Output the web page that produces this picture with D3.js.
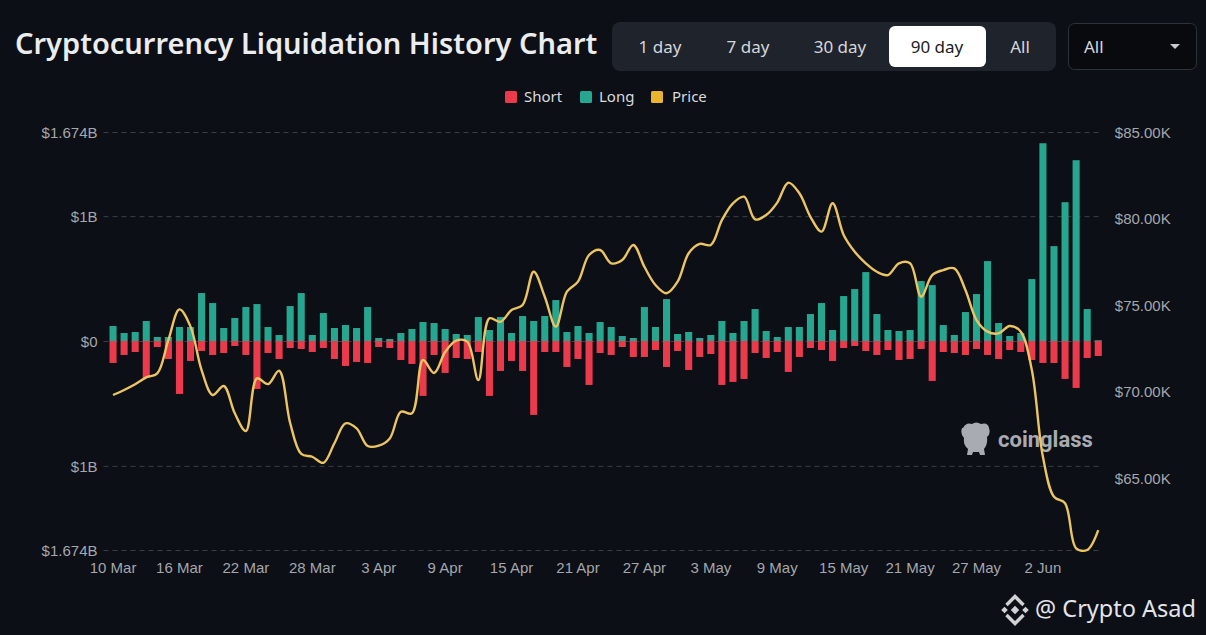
<!DOCTYPE html>
<html>
<head>
<meta charset="utf-8">
<script src="https://cdn.jsdelivr.net/npm/d3@7/dist/d3.min.js"></script>
<style>
  html, body { margin: 0; padding: 0; background: #0c0f15; }
  svg { display: block; font-family: "Noto Sans", Roboto, sans-serif; }
  .tick text { fill: #a4a7ad; font-size: 15px; }
  .grid line { stroke: #3a3f48; stroke-dasharray: 5 4; }
</style>
</head>
<body>
<svg id="chart" width="1206" height="635"></svg>
<script>
// ---- data (liquidations in $M, price in $K) ----
const startDay = new Date(2024, 2, 10);
const endDay = new Date(2024, 5, 8);

const longLiq = [
  120, 64, 72, 160, 32, 32, 112, 112, 384, 304,
  104, 184, 272, 296, 112, 48, 280, 384, 48, 224,
  104, 128, 104, 272, 24, 16, 64, 96, 152, 144,
  96, 56, 48, 192, 88, 192, 64, 200, 160, 200,
  328, 72, 120, 64, 152, 112, 40, 24, 272, 112,
  336, 56, 72, 24, 48, 160, 64, 160, 256, 80,
  32, 112, 112, 216, 304, 88, 360, 416, 552, 216,
  88, 80, 88, 480, 448, 128, 48, 232, 376, 640,
  144, 40, 64, 496, 1584, 760, 1112, 1448, 256, 6
];
const shortLiq = [
  176, 112, 88, 296, 48, 144, 424, 160, 80, 112,
  96, 40, 112, 384, 96, 144, 56, 64, 88, 56,
  144, 200, 168, 176, 48, 56, 152, 184, 440, 112,
  256, 136, 144, 88, 440, 240, 160, 240, 592, 88,
  88, 208, 144, 352, 96, 112, 48, 128, 128, 72,
  208, 80, 232, 128, 104, 352, 328, 304, 96, 136,
  88, 248, 128, 56, 72, 160, 56, 40, 80, 112,
  72, 152, 144, 64, 320, 88, 96, 112, 64, 112,
  144, 72, 88, 152, 176, 176, 304, 376, 136, 120
];
const price = [
  69.80, 70.09, 70.42, 70.82, 71.05, 72.98, 74.75, 73.75, 71.24, 69.80,
  70.32, 68.74, 67.72, 70.76, 70.43, 71.20, 68.18, 66.39, 66.23, 65.88,
  67.01, 68.16, 67.87, 66.85, 66.87, 67.29, 68.83, 68.74, 71.82, 71.07,
  72.28, 72.94, 72.88, 70.66, 74.23, 74.03, 74.71, 75.00, 76.92, 75.48,
  73.75, 75.77, 76.35, 77.89, 78.18, 77.41, 77.60, 78.47, 77.21, 76.16,
  75.68, 76.35, 77.99, 78.53, 78.47, 79.91, 80.88, 81.26, 79.95, 80.20,
  80.92, 82.07, 81.46, 80.10, 79.24, 80.88, 79.05, 78.08, 77.41, 76.92,
  76.73, 77.41, 77.41, 75.48, 76.73, 77.02, 77.12, 75.87, 74.13, 73.46,
  73.36, 73.79, 73.46, 71.24, 66.23, 63.92, 63.54, 60.94, 60.84, 61.99
];

const xTickLabels = ["10 Mar", "16 Mar", "22 Mar", "28 Mar", "3 Apr", "9 Apr", "15 Apr",
  "21 Apr", "27 Apr", "3 May", "9 May", "15 May", "21 May", "27 May", "2 Jun"];
const liqTicks = [-1674, -1000, 0, 1000, 1674];
const priceTicks = [65, 70, 75, 80, 85];
const rangeButtons = ["1 day", "7 day", "30 day", "90 day", "All"];
const activeRange = "90 day";
const legendItems = [
  { name: "Short", color: "#ea3a4c" },
  { name: "Long", color: "#26a58f" },
  { name: "Price", color: "#e9b530" }
];

const fmtDay = d3.timeFormat("%-d %b");
const days = d3.timeDay.range(startDay, endDay).map(fmtDay);

// ---- layout ----
const svg = d3.select("#chart");
const W = 1206, H = 635;
const plot = { left: 107.5, right: 1103.8, top: 132, bottom: 550 };
const RED = "#ea3a4c", GREEN = "#26a58f", LINE = "#ecc462";

svg.append("rect").attr("width", W).attr("height", H).attr("fill", "#0c0f15");

const x = d3.scaleBand().domain(days).range([plot.left, plot.right]).paddingInner(0.36).paddingOuter(0.18);
const yL = d3.scaleLinear().domain([-1674, 1674]).range([plot.bottom, plot.top]);
const yR = d3.scaleLinear().domain([60.84, 85]).range([plot.bottom, plot.top]);

// grid
svg.append("g")
    .attr("class", "grid")
    .attr("transform", `translate(${plot.left - 4},0)`)
    .call(d3.axisLeft(yL).tickValues(liqTicks).tickSize(-(plot.right - plot.left)).tickFormat(""))
    .call(g => g.select(".domain").remove());

// left axis
const fmtLiq = v => v === 0 ? "$0" : "$" + (Math.abs(v) >= 1500 ? (Math.abs(v) / 1000).toFixed(3) : Math.abs(v) / 1000) + "B";
svg.append("g")
    .attr("transform", `translate(${plot.left - 10},0)`)
    .call(d3.axisLeft(yL).tickValues(liqTicks).tickSize(0).tickPadding(0).tickFormat(fmtLiq))
    .call(g => g.select(".domain").remove())
    .call(g => g.selectAll("text").attr("dy", "0.35em"));

// right axis
svg.append("g")
    .attr("transform", `translate(${plot.right + 11},0)`)
    .call(d3.axisRight(yR).tickValues(priceTicks).tickSize(0).tickPadding(0).tickFormat(v => "$" + v.toFixed(2) + "K"))
    .call(g => g.select(".domain").remove())
    .call(g => g.selectAll("text").attr("dy", "0.35em"));

// x axis
svg.append("g")
    .attr("transform", `translate(0,${plot.bottom + 12})`)
    .call(d3.axisBottom(x).tickValues(days.filter(d => xTickLabels.includes(d))).tickSize(0).tickPadding(0))
    .call(g => g.select(".domain").remove())
    .call(g => g.selectAll("text").attr("dy", "0.71em"));

// watermark (coinglass)
const wm = svg.append("g").attr("fill", "#b9bcc2").attr("opacity", 0.9);
wm.append("path")
    .attr("d", "M963,428 q3,-6 9,-4 q4,-3 9,0 q7,-2 8,4 q2,6 -2,9 q1,7 -3,12 l1,6 h-5 l-1,-3 h-6 l-1,3 h-5 l1,-6 q-5,-4 -4,-11 q-4,-4 -2,-10 z");
wm.append("text")
    .attr("x", 998).attr("y", 447)
    .attr("font-size", 22).attr("font-weight", 700)
    .attr("font-family", "Roboto, 'Noto Sans', sans-serif")
    .text("coinglass");

// bars
const bars = svg.append("g");
bars.selectAll("rect.long")
  .data(days)
  .join("rect")
    .attr("class", "long")
    .attr("x", d => x(d))
    .attr("width", x.bandwidth())
    .attr("y", (d, i) => yL(longLiq[i]))
    .attr("height", (d, i) => yL(0) - yL(longLiq[i]))
    .attr("fill", GREEN);
bars.selectAll("rect.short")
  .data(days)
  .join("rect")
    .attr("class", "short")
    .attr("x", d => x(d))
    .attr("width", x.bandwidth())
    .attr("y", yL(0))
    .attr("height", (d, i) => yL(-shortLiq[i]) - yL(0))
    .attr("fill", RED);

// price line
const line = d3.line()
    .x((d, i) => x(days[i]) + x.bandwidth() / 2)
    .y(d => yR(d))
    .curve(d3.curveCatmullRom.alpha(0.5));
svg.append("path")
    .datum(price)
    .attr("d", line)
    .attr("fill", "none")
    .attr("stroke", LINE)
    .attr("stroke-width", 2.4)
    .attr("stroke-linejoin", "round");

// title
svg.append("text")
    .attr("x", 15).attr("y", 54)
    .attr("fill", "#ebecee")
    .attr("font-size", 29).attr("font-weight", 600)
    .text("Cryptocurrency Liquidation History Chart");

// range buttons
const btnCenters = [660, 748, 840, 937, 1020];
svg.append("rect")
    .attr("x", 612).attr("y", 22).attr("width", 444).attr("height", 49)
    .attr("rx", 8).attr("fill", "#1f232b");
const btn = svg.append("g").selectAll("g")
  .data(rangeButtons)
  .join("g");
btn.filter(d => d === activeRange).append("rect")
    .attr("x", d => btnCenters[rangeButtons.indexOf(d)] - 48)
    .attr("y", 26).attr("width", 97).attr("height", 41)
    .attr("rx", 6).attr("fill", "#ffffff");
btn.append("text")
    .attr("x", (d, i) => btnCenters[i])
    .attr("y", 47)
    .attr("dy", "0.35em")
    .attr("text-anchor", "middle")
    .attr("font-size", 17)
    .attr("fill", d => d === activeRange ? "#1a1d23" : "#d5d7db")
    .text(d => d);

// dropdown
svg.append("rect")
    .attr("x", 1068.5).attr("y", 23.5).attr("width", 128).attr("height", 46)
    .attr("rx", 6).attr("fill", "#080a0e").attr("stroke", "#2e323a");
svg.append("text")
    .attr("x", 1084).attr("y", 47).attr("dy", "0.35em")
    .attr("font-size", 17).attr("fill", "#d5d7db").text("All");
svg.append("path")
    .attr("d", "M1170,44 h10 l-5,5 z").attr("fill", "#c8cacf");

// legend
const lg = svg.append("g").selectAll("g")
  .data(legendItems)
  .join("g")
    .attr("transform", (d, i) => `translate(${[505, 580, 651][i]},91)`);
lg.append("rect").attr("width", 12).attr("height", 12).attr("rx", 1.5).attr("fill", d => d.color);
lg.append("text")
    .attr("x", (d, i) => i === 2 ? 21 : 19).attr("y", 6).attr("dy", "0.35em")
    .attr("font-size", 15).attr("fill", "#d9dbdf")
    .text(d => d.name);

// author watermark (binance-style mark)
const bn = svg.append("g").attr("fill", "#d0d2d6").attr("transform", "translate(1015,610)");
const diamond = (cx, cy, r) => `M${cx},${cy - r} L${cx + r},${cy} L${cx},${cy + r} L${cx - r},${cy} Z`;
bn.append("path").attr("d", diamond(0, 0, 4.2) + diamond(-10.5, 0, 3.3) + diamond(10.5, 0, 3.3));
bn.append("path")
    .attr("d", "M-8.5,-5 L0,-13.5 L8.5,-5 M-8.5,5 L0,13.5 L8.5,5")
    .attr("fill", "none").attr("stroke", "#d0d2d6").attr("stroke-width", 3.4);
svg.append("text")
    .attr("x", 1196).attr("y", 609).attr("dy", "0.35em")
    .attr("text-anchor", "end")
    .attr("font-size", 23.5).attr("fill", "#e3e4e7")
    .text("@ Crypto Asad");
</script>
</body>
</html>
